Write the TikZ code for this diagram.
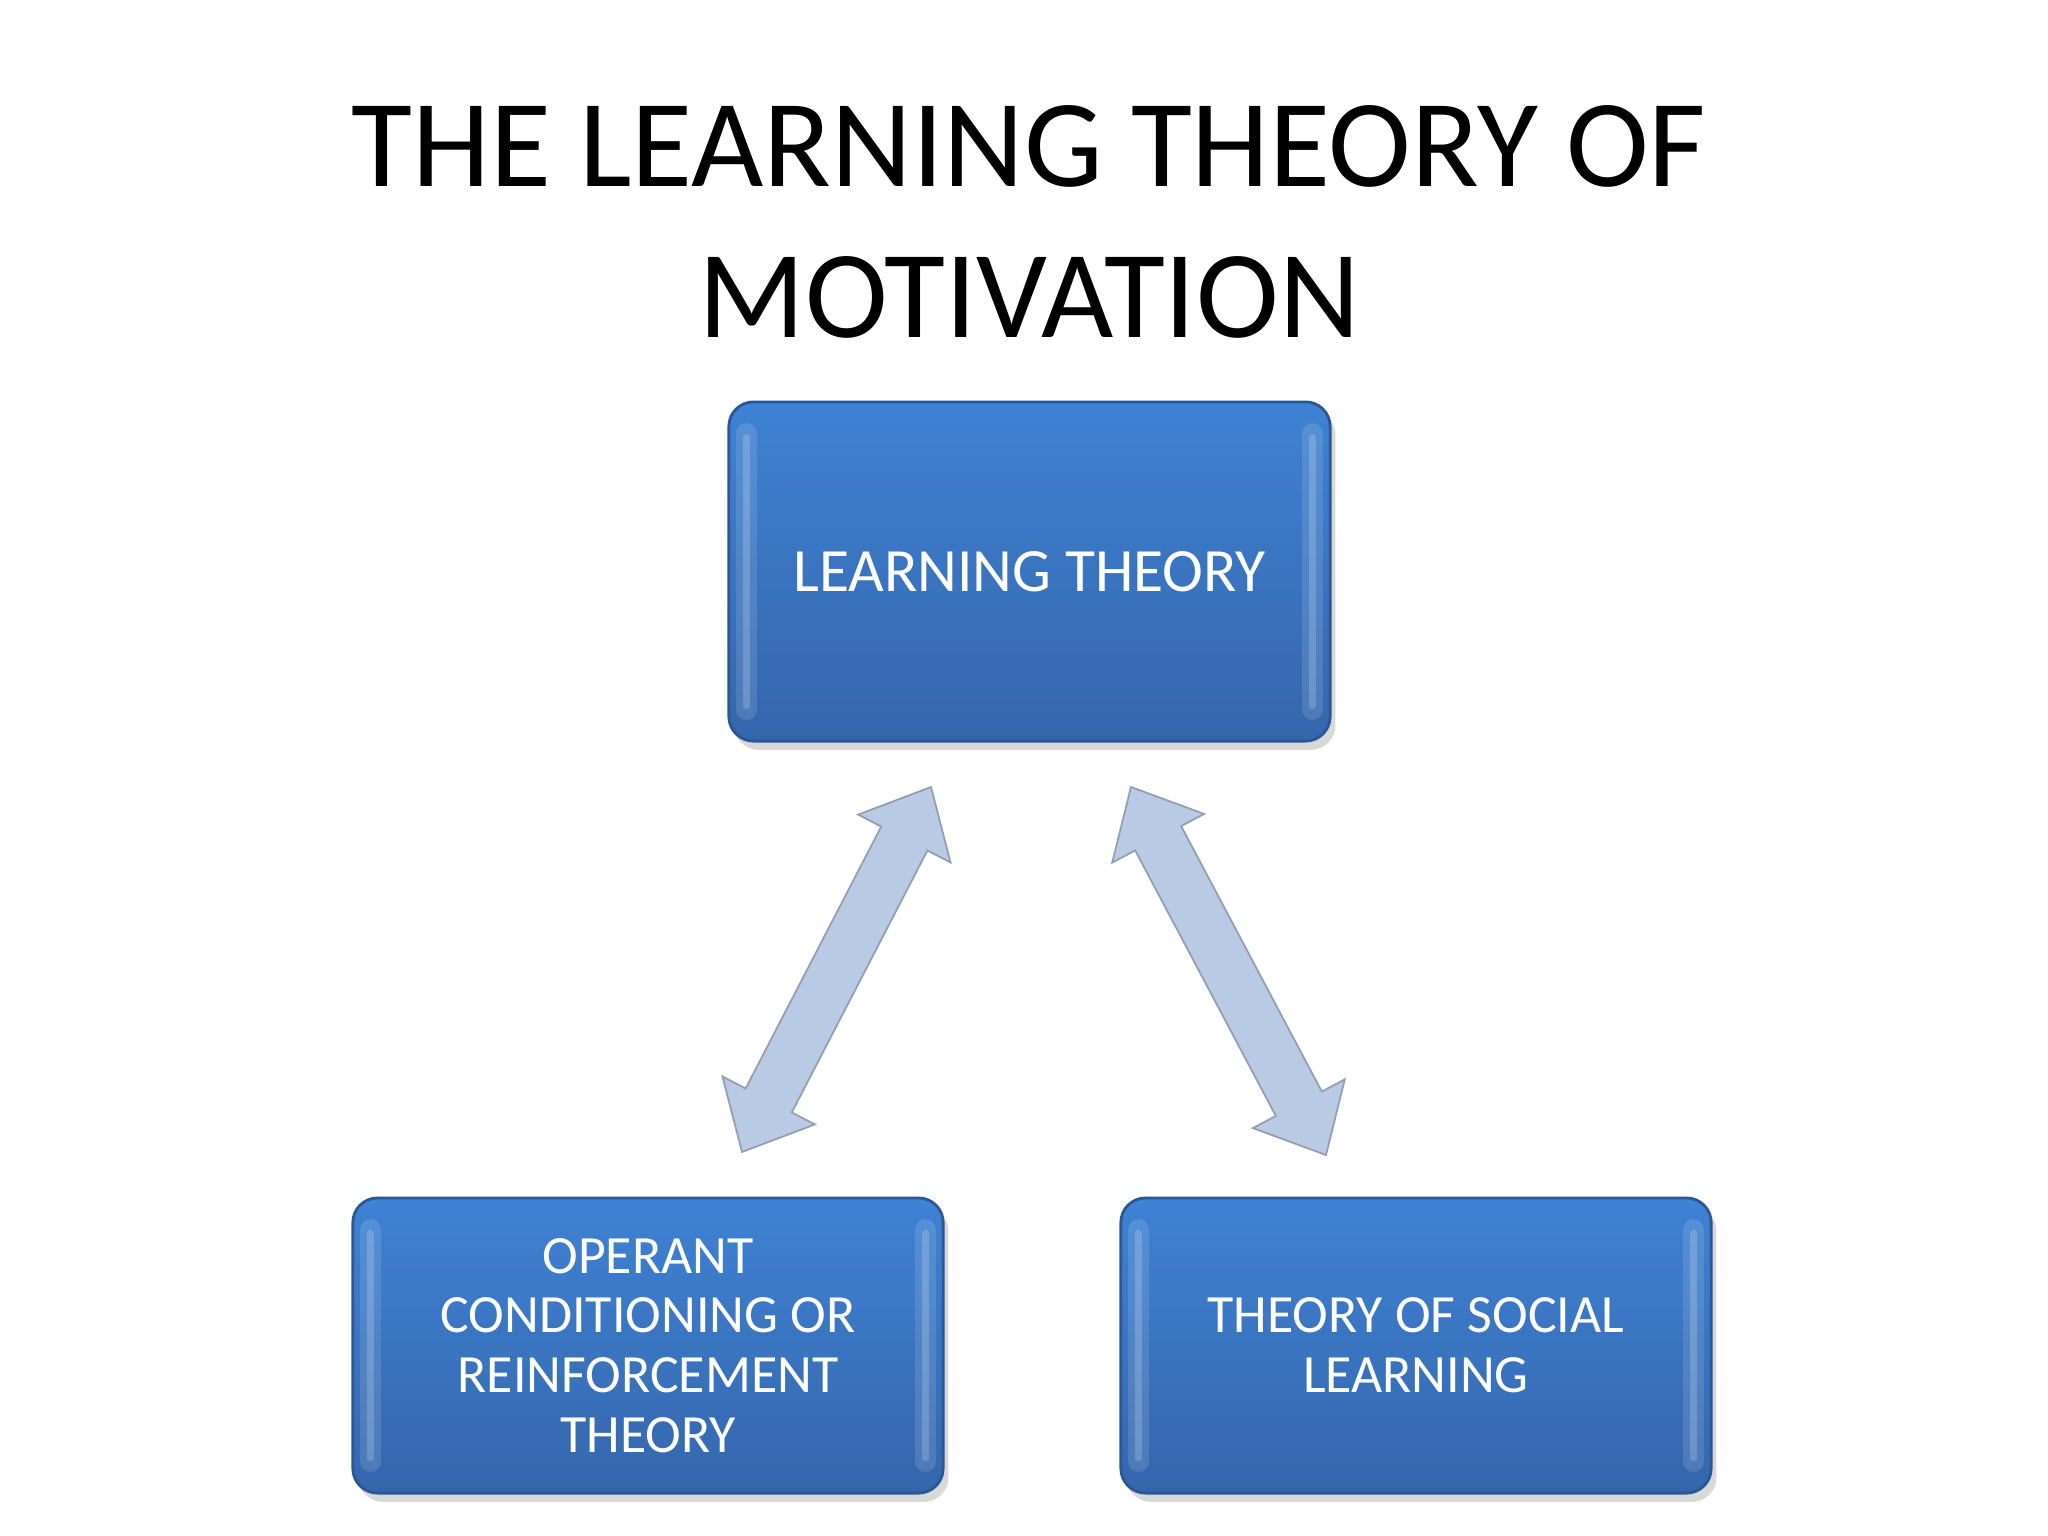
\documentclass[tikz,border=0pt]{standalone}
\usepackage{fontspec}
\setmainfont{Carlito}
\usepackage{xcolor}
\usetikzlibrary{calc,shadows,positioning}

\definecolor{boxtop}{RGB}{63,130,211}
\definecolor{boxbot}{RGB}{53,102,172}
\definecolor{boxedge}{RGB}{44,86,148}
\definecolor{arrowfill}{RGB}{185,202,228}
\definecolor{arrowedge}{RGB}{148,158,176}

% block arrow with a head at both ends
\newcommand{\fatarrow}[2]{%
  \coordinate (h1) at ($(#1)!0.58cm!(#2)$);
  \coordinate (h2) at ($(#2)!0.58cm!(#1)$);
  \draw[twoway] (#1) -- ($(h1)!0.52cm!90:(#2)$) -- ($(h1)!0.26cm!90:(#2)$)
    -- ($(h2)!0.26cm!-90:(#1)$) -- ($(h2)!0.52cm!-90:(#1)$) -- (#2)
    -- ($(h2)!0.52cm!90:(#1)$) -- ($(h2)!0.26cm!90:(#1)$)
    -- ($(h1)!0.26cm!-90:(#2)$) -- ($(h1)!0.52cm!-90:(#2)$) -- cycle;
}

\tikzset{
  theorybox/.style={rounded corners=7pt, draw=boxedge, line width=0.8pt,
    top color=boxtop, bottom color=boxbot, text=white, align=center,
    drop shadow={shadow xshift=1.5pt, shadow yshift=-2.5pt, opacity=0.3},
    path picture={
      \foreach \side/\dx in {west/5pt, east/-5pt} {
        \draw[white, opacity=.12, line width=6pt, line cap=round]
          ([xshift=\dx,yshift=-9pt]path picture bounding box.north \side) --
          ([xshift=\dx,yshift=9pt]path picture bounding box.south \side);
        \draw[white, opacity=.18, line width=1.8pt, line cap=round]
          ([xshift=\dx,yshift=-10pt]path picture bounding box.north \side) --
          ([xshift=\dx,yshift=10pt]path picture bounding box.south \side);
      }
    }},
  twoway/.style={fill=arrowfill, draw=arrowedge, line width=0.5pt, line join=miter},
}

\begin{document}
\begin{tikzpicture}[x=0.01cm, y=-0.01cm]
  \fill[white] (0,0) rectangle (2048,1536);
  \useasboundingbox (0,0) rectangle (2048,1536);

  \node[align=center, font=\fontsize{35.5}{43}\selectfont] (title) at (1029,222)
    {THE LEARNING THEORY OF\\MOTIVATION};

  \node[theorybox, minimum width=6.01cm, minimum height=3.39cm,
    font=\fontsize{17.5}{21}\selectfont] (learn) at (1029.5,571.5) {LEARNING THEORY};
  \node[theorybox, minimum width=5.9cm, minimum height=2.95cm,
    font=\fontsize{15.3}{17}\selectfont] (operant) at (648,1345.5)
    {OPERANT\\CONDITIONING OR\\REINFORCEMENT\\THEORY};
  \node[theorybox, minimum width=5.9cm, minimum height=2.95cm,
    font=\fontsize{15.3}{17}\selectfont] (social) at (1416,1345.5)
    {THEORY OF SOCIAL\\LEARNING};

  % arrow ends
  \coordinate (la) at (742,1152);
  \coordinate (lb) at (931,787);
  \coordinate (ra) at (1131,787);
  \coordinate (rb) at (1326,1155);
  \fatarrow{la}{lb}
  \fatarrow{ra}{rb}
\end{tikzpicture}
\end{document}
